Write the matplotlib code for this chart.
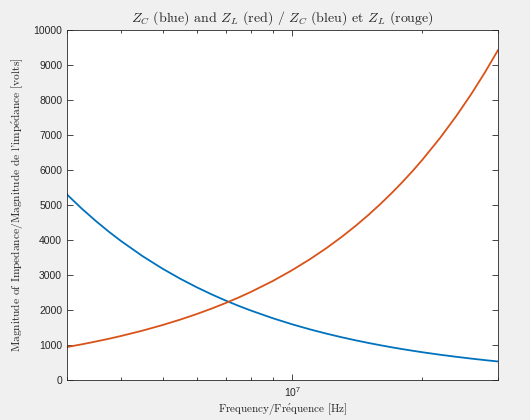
import numpy as np
import matplotlib
matplotlib.use("Agg")
import matplotlib.pyplot as plt
from matplotlib.ticker import LogLocator, NullFormatter

# frequency points (MHz) and impedance magnitudes
freq_mhz = [3, 3.25, 3.5, 3.75, 4, 4.5, 5, 5.5, 6, 6.5, 7, 7.5, 8, 9, 10,
            11, 12, 13, 14, 15, 16, 17, 18, 19, 20, 22, 24, 26, 28, 30]
z_c = [5300, 4892, 4543, 4240, 3975, 3533, 3180, 2891, 2650, 2446, 2271,
       2120, 1988, 1767, 1590, 1445, 1325, 1223, 1136, 1060, 994, 935, 883,
       837, 795, 723, 663, 612, 568, 530]
z_l = [942, 1021, 1100, 1178, 1257, 1414, 1571, 1728, 1885, 2042, 2199,
       2356, 2513, 2827, 3142, 3456, 3770, 4084, 4398, 4712, 5027, 5341,
       5655, 5969, 6283, 6912, 7540, 8168, 8796, 9425]
yticks = list(range(0, 10001, 1000))

freq = np.array(freq_mhz) * 1e6

plt.rcParams['mathtext.fontset'] = 'cm'
tex = ['cmr10', 'DejaVu Serif']
e_acc = r'$\mathrm{\acute{e}}$'

fig = plt.figure(figsize=(5.3, 4.2), dpi=100, facecolor='#f0f0f0')
ax = fig.add_axes([0.1264, 0.0952, 0.8132, 0.8333])
ax.set_facecolor('white')

ax.plot(freq, z_c, color='#0072BD', lw=1.3)
ax.plot(freq, z_l, color='#D95319', lw=1.3)

ax.set_xscale('log')
ax.set_xlim(3e6, 3e7)
ax.set_ylim(0, 10000)
ax.set_yticks(yticks)
ax.xaxis.set_major_locator(LogLocator(base=10))
ax.xaxis.set_minor_locator(LogLocator(base=10, subs=np.arange(2, 10)))
ax.xaxis.set_minor_formatter(NullFormatter())

ax.tick_params(which='both', direction='in', top=True, right=True,
               colors='#262626', labelsize=7.5)
ax.tick_params(which='major', length=4, width=0.6)
ax.tick_params(which='minor', length=2.5, width=0.6)
for lab in ax.get_xticklabels() + ax.get_yticklabels():
    lab.set_family('Liberation Sans')
for s in ax.spines.values():
    s.set_color('#262626')
    s.set_linewidth(0.6)

ax.set_title(r'$Z_C$ (blue) and $Z_L$ (red) / $Z_C$ (bleu) et $Z_L$ (rouge)',
             family=tex, fontsize=10, color='#262626', pad=6)
ax.set_xlabel('Frequency/Fr' + e_acc + 'quence [Hz]', family=tex,
              fontsize=8, color='#262626', labelpad=2)
ax.set_ylabel("Magnitude of Impedance/Magnitude de l'imp" + e_acc + 'dance [volts]',
              family=tex, fontsize=8.2, color='#262626', labelpad=6)

fig.savefig('out.png', dpi=100, facecolor=fig.get_facecolor())
